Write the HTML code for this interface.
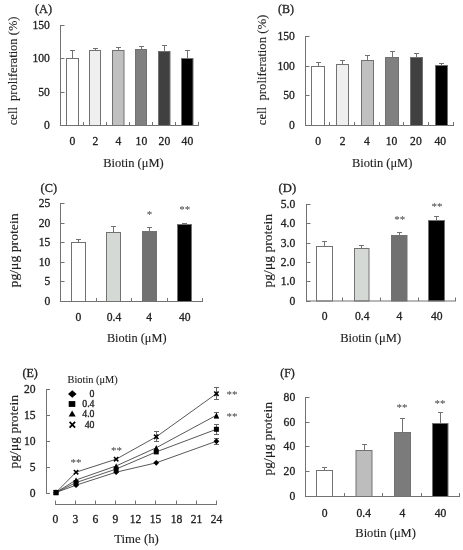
<!DOCTYPE html>
<html><head><meta charset="utf-8"><title>Biotin figure</title>
<style>
html,body{margin:0;padding:0;background:#fff;}
body{width:463px;height:550px;overflow:hidden;}
svg{display:block;font-family:'Liberation Serif', 'DejaVu Serif', serif;filter:blur(0.3px);}
text{stroke:#222;stroke-width:0.3px;}
text.t{stroke-width:0.12px;}
text.s{stroke:none;}

</style></head>
<body>
<svg width="463" height="550" viewBox="0 0 463 550">
<rect width="463" height="550" fill="#fff"/>
<line x1="72.50" y1="58.50" x2="72.50" y2="50.50" stroke="#727272" stroke-width="1"/>
<line x1="70.00" y1="50.50" x2="75.00" y2="50.50" stroke="#727272" stroke-width="1"/>
<rect x="66.5" y="58.5" width="12" height="67.0" fill="#fff" stroke="#727272" stroke-width="1"/>
<line x1="95.50" y1="50.50" x2="95.50" y2="48.50" stroke="#727272" stroke-width="1"/>
<line x1="93.00" y1="48.50" x2="98.00" y2="48.50" stroke="#727272" stroke-width="1"/>
<rect x="89.5" y="50.5" width="11" height="75.0" fill="#efefef" stroke="#727272" stroke-width="1"/>
<line x1="118.50" y1="50.50" x2="118.50" y2="47.50" stroke="#727272" stroke-width="1"/>
<line x1="116.00" y1="47.50" x2="121.00" y2="47.50" stroke="#727272" stroke-width="1"/>
<rect x="112.5" y="50.5" width="11.5" height="75.0" fill="#c0c0c0" stroke="#727272" stroke-width="1"/>
<line x1="141.50" y1="49.50" x2="141.50" y2="46.50" stroke="#727272" stroke-width="1"/>
<line x1="139.00" y1="46.50" x2="144.00" y2="46.50" stroke="#727272" stroke-width="1"/>
<rect x="135.5" y="49.5" width="11" height="76.0" fill="#808080" stroke="#727272" stroke-width="1"/>
<line x1="164.50" y1="51.50" x2="164.50" y2="45.50" stroke="#727272" stroke-width="1"/>
<line x1="162.00" y1="45.50" x2="167.00" y2="45.50" stroke="#727272" stroke-width="1"/>
<rect x="158.5" y="51.5" width="11.5" height="74.0" fill="#404040" stroke="#727272" stroke-width="1"/>
<line x1="187.50" y1="58.50" x2="187.50" y2="50.50" stroke="#727272" stroke-width="1"/>
<line x1="185.00" y1="50.50" x2="190.00" y2="50.50" stroke="#727272" stroke-width="1"/>
<rect x="181.5" y="58.5" width="11.5" height="67.0" fill="#000" stroke="#727272" stroke-width="1"/>
<line x1="60.50" y1="125.50" x2="60.50" y2="25.00" stroke="#727272" stroke-width="1"/>
<line x1="60.00" y1="125.50" x2="64.50" y2="125.50" stroke="#727272" stroke-width="1"/>
<line x1="60.00" y1="92.50" x2="64.50" y2="92.50" stroke="#727272" stroke-width="1"/>
<line x1="60.00" y1="58.50" x2="64.50" y2="58.50" stroke="#727272" stroke-width="1"/>
<line x1="60.00" y1="25.50" x2="64.50" y2="25.50" stroke="#727272" stroke-width="1"/>
<line x1="60.00" y1="125.50" x2="199.00" y2="125.50" stroke="#727272" stroke-width="1"/>
<line x1="83.50" y1="125.50" x2="83.50" y2="122.00" stroke="#727272" stroke-width="1"/>
<line x1="106.50" y1="125.50" x2="106.50" y2="122.00" stroke="#727272" stroke-width="1"/>
<line x1="129.50" y1="125.50" x2="129.50" y2="122.00" stroke="#727272" stroke-width="1"/>
<line x1="152.50" y1="125.50" x2="152.50" y2="122.00" stroke="#727272" stroke-width="1"/>
<line x1="175.50" y1="125.50" x2="175.50" y2="122.00" stroke="#727272" stroke-width="1"/>
<line x1="198.50" y1="125.50" x2="198.50" y2="122.00" stroke="#727272" stroke-width="1"/>
<text x="49.80" y="129.00" font-size="11.6" text-anchor="end" fill="#222">0</text>
<text x="49.80" y="95.67" font-size="11.6" text-anchor="end" fill="#222">50</text>
<text x="49.80" y="62.33" font-size="11.6" text-anchor="end" fill="#222">100</text>
<text x="49.80" y="29.00" font-size="11.6" text-anchor="end" fill="#222">150</text>
<text x="72.40" y="144.60" font-size="11.6" text-anchor="middle" fill="#222">0</text>
<text x="95.40" y="144.60" font-size="11.6" text-anchor="middle" fill="#222">2</text>
<text x="118.40" y="144.60" font-size="11.6" text-anchor="middle" fill="#222">4</text>
<text x="141.40" y="144.60" font-size="11.6" text-anchor="middle" fill="#222">10</text>
<text x="164.40" y="144.60" font-size="11.6" text-anchor="middle" fill="#222">20</text>
<text x="187.40" y="144.60" font-size="11.6" text-anchor="middle" fill="#222">40</text>
<text x="103.30" y="167.30" font-size="12.4" text-anchor="start" fill="#222" textLength="60.40" lengthAdjust="spacingAndGlyphs" class="t">Biotin (μM)</text>
<text transform="translate(16.50,125.20) rotate(-90)" font-size="12.2" fill="#222" textLength="108.70" lengthAdjust="spacingAndGlyphs" class="t">cell&#160;&#160;proliferation (%)</text>
<text x="35.00" y="13.20" font-size="12.3" text-anchor="start" fill="#222">(A)</text>
<line x1="318.50" y1="66.50" x2="318.50" y2="62.50" stroke="#727272" stroke-width="1"/>
<line x1="316.00" y1="62.50" x2="321.00" y2="62.50" stroke="#727272" stroke-width="1"/>
<rect x="311.5" y="66.5" width="13" height="59.0" fill="#fff" stroke="#727272" stroke-width="1"/>
<line x1="342.50" y1="64.50" x2="342.50" y2="60.50" stroke="#727272" stroke-width="1"/>
<line x1="340.00" y1="60.50" x2="345.00" y2="60.50" stroke="#727272" stroke-width="1"/>
<rect x="336.5" y="64.5" width="12" height="61.0" fill="#efefef" stroke="#727272" stroke-width="1"/>
<line x1="367.50" y1="60.50" x2="367.50" y2="55.50" stroke="#727272" stroke-width="1"/>
<line x1="365.00" y1="55.50" x2="370.00" y2="55.50" stroke="#727272" stroke-width="1"/>
<rect x="361.5" y="60.5" width="12" height="65.0" fill="#c0c0c0" stroke="#727272" stroke-width="1"/>
<line x1="392.50" y1="57.50" x2="392.50" y2="51.50" stroke="#727272" stroke-width="1"/>
<line x1="390.00" y1="51.50" x2="395.00" y2="51.50" stroke="#727272" stroke-width="1"/>
<rect x="385.5" y="57.5" width="13" height="68.0" fill="#808080" stroke="#727272" stroke-width="1"/>
<line x1="416.50" y1="57.50" x2="416.50" y2="53.50" stroke="#727272" stroke-width="1"/>
<line x1="414.00" y1="53.50" x2="419.00" y2="53.50" stroke="#727272" stroke-width="1"/>
<rect x="410.5" y="57.5" width="12" height="68.0" fill="#404040" stroke="#727272" stroke-width="1"/>
<line x1="441.50" y1="65.50" x2="441.50" y2="63.50" stroke="#727272" stroke-width="1"/>
<line x1="439.00" y1="63.50" x2="444.00" y2="63.50" stroke="#727272" stroke-width="1"/>
<rect x="435.5" y="65.5" width="12" height="60.0" fill="#000" stroke="#727272" stroke-width="1"/>
<line x1="305.50" y1="125.50" x2="305.50" y2="36.00" stroke="#727272" stroke-width="1"/>
<line x1="305.00" y1="125.50" x2="309.50" y2="125.50" stroke="#727272" stroke-width="1"/>
<line x1="305.00" y1="95.50" x2="309.50" y2="95.50" stroke="#727272" stroke-width="1"/>
<line x1="305.00" y1="66.50" x2="309.50" y2="66.50" stroke="#727272" stroke-width="1"/>
<line x1="305.00" y1="36.50" x2="309.50" y2="36.50" stroke="#727272" stroke-width="1"/>
<line x1="305.00" y1="125.50" x2="454.00" y2="125.50" stroke="#727272" stroke-width="1"/>
<line x1="329.50" y1="125.50" x2="329.50" y2="122.00" stroke="#727272" stroke-width="1"/>
<line x1="354.50" y1="125.50" x2="354.50" y2="122.00" stroke="#727272" stroke-width="1"/>
<line x1="379.50" y1="125.50" x2="379.50" y2="122.00" stroke="#727272" stroke-width="1"/>
<line x1="403.50" y1="125.50" x2="403.50" y2="122.00" stroke="#727272" stroke-width="1"/>
<line x1="428.50" y1="125.50" x2="428.50" y2="122.00" stroke="#727272" stroke-width="1"/>
<line x1="453.50" y1="125.50" x2="453.50" y2="122.00" stroke="#727272" stroke-width="1"/>
<text x="294.80" y="129.00" font-size="11.6" text-anchor="end" fill="#222">0</text>
<text x="294.80" y="99.33" font-size="11.6" text-anchor="end" fill="#222">50</text>
<text x="294.80" y="69.67" font-size="11.6" text-anchor="end" fill="#222">100</text>
<text x="294.80" y="40.00" font-size="11.6" text-anchor="end" fill="#222">150</text>
<text x="318.10" y="144.60" font-size="11.6" text-anchor="middle" fill="#222">0</text>
<text x="342.55" y="144.60" font-size="11.6" text-anchor="middle" fill="#222">2</text>
<text x="367.00" y="144.60" font-size="11.6" text-anchor="middle" fill="#222">4</text>
<text x="391.45" y="144.60" font-size="11.6" text-anchor="middle" fill="#222">10</text>
<text x="415.90" y="144.60" font-size="11.6" text-anchor="middle" fill="#222">20</text>
<text x="440.35" y="144.60" font-size="11.6" text-anchor="middle" fill="#222">40</text>
<text x="351.90" y="166.80" font-size="12.4" text-anchor="start" fill="#222" textLength="60.50" lengthAdjust="spacingAndGlyphs" class="t">Biotin (μM)</text>
<text transform="translate(265.80,125.20) rotate(-90)" font-size="12.2" fill="#222" textLength="110.50" lengthAdjust="spacingAndGlyphs" class="t">cell&#160;&#160;proliferation (%)</text>
<text x="278.00" y="13.20" font-size="12.0" text-anchor="start" fill="#222">(B)</text>
<line x1="78.50" y1="242.50" x2="78.50" y2="239.50" stroke="#727272" stroke-width="1"/>
<line x1="76.00" y1="239.50" x2="81.00" y2="239.50" stroke="#727272" stroke-width="1"/>
<rect x="71.5" y="242.5" width="14" height="59.0" fill="#fff" stroke="#727272" stroke-width="1"/>
<line x1="113.50" y1="232.50" x2="113.50" y2="226.50" stroke="#727272" stroke-width="1"/>
<line x1="111.00" y1="226.50" x2="116.00" y2="226.50" stroke="#727272" stroke-width="1"/>
<rect x="106.5" y="232.5" width="14" height="69.0" fill="#d5d9d5" stroke="#727272" stroke-width="1"/>
<line x1="149.50" y1="231.50" x2="149.50" y2="227.50" stroke="#727272" stroke-width="1"/>
<line x1="147.00" y1="227.50" x2="152.00" y2="227.50" stroke="#727272" stroke-width="1"/>
<rect x="142.5" y="231.5" width="14" height="70.0" fill="#717171" stroke="#727272" stroke-width="1"/>
<line x1="184.50" y1="224.50" x2="184.50" y2="223.50" stroke="#727272" stroke-width="1"/>
<line x1="182.00" y1="223.50" x2="187.00" y2="223.50" stroke="#727272" stroke-width="1"/>
<rect x="177.5" y="224.5" width="14" height="77.0" fill="#000" stroke="#727272" stroke-width="1"/>
<line x1="60.50" y1="301.50" x2="60.50" y2="203.00" stroke="#727272" stroke-width="1"/>
<line x1="60.00" y1="301.50" x2="64.50" y2="301.50" stroke="#727272" stroke-width="1"/>
<line x1="60.00" y1="281.50" x2="64.50" y2="281.50" stroke="#727272" stroke-width="1"/>
<line x1="60.00" y1="262.50" x2="64.50" y2="262.50" stroke="#727272" stroke-width="1"/>
<line x1="60.00" y1="242.50" x2="64.50" y2="242.50" stroke="#727272" stroke-width="1"/>
<line x1="60.00" y1="223.50" x2="64.50" y2="223.50" stroke="#727272" stroke-width="1"/>
<line x1="60.00" y1="203.50" x2="64.50" y2="203.50" stroke="#727272" stroke-width="1"/>
<line x1="60.00" y1="301.50" x2="203.00" y2="301.50" stroke="#727272" stroke-width="1"/>
<line x1="96.50" y1="301.50" x2="96.50" y2="298.00" stroke="#727272" stroke-width="1"/>
<line x1="131.50" y1="301.50" x2="131.50" y2="298.00" stroke="#727272" stroke-width="1"/>
<line x1="167.50" y1="301.50" x2="167.50" y2="298.00" stroke="#727272" stroke-width="1"/>
<line x1="202.50" y1="301.50" x2="202.50" y2="298.00" stroke="#727272" stroke-width="1"/>
<text x="50.30" y="305.00" font-size="11.6" text-anchor="end" fill="#222">0</text>
<text x="50.30" y="285.46" font-size="11.6" text-anchor="end" fill="#222">5</text>
<text x="50.30" y="265.92" font-size="11.6" text-anchor="end" fill="#222">10</text>
<text x="50.30" y="246.38" font-size="11.6" text-anchor="end" fill="#222">15</text>
<text x="50.30" y="226.84" font-size="11.6" text-anchor="end" fill="#222">20</text>
<text x="50.30" y="207.30" font-size="11.6" text-anchor="end" fill="#222">25</text>
<text x="78.30" y="320.50" font-size="11.6" text-anchor="middle" fill="#222">0</text>
<text x="114.00" y="320.50" font-size="11.6" text-anchor="middle" fill="#222">0.4</text>
<text x="149.20" y="320.50" font-size="11.6" text-anchor="middle" fill="#222">4</text>
<text x="184.70" y="320.50" font-size="11.6" text-anchor="middle" fill="#222">40</text>
<text x="106.90" y="341.60" font-size="12.4" text-anchor="start" fill="#222" textLength="59.60" lengthAdjust="spacingAndGlyphs" class="t">Biotin (μM)</text>
<text transform="translate(17.70,287.40) rotate(-90)" font-size="12.8" fill="#222" textLength="74.00" lengthAdjust="spacingAndGlyphs" class="t">pg/μg protein</text>
<text x="40.60" y="192.30" font-size="12.3" text-anchor="start" fill="#222">(C)</text>
<text x="149.40" y="218.00" font-size="11" text-anchor="middle" fill="#3a3a3a" class="s">*</text>
<text x="184.70" y="213.00" font-size="11" text-anchor="middle" fill="#3a3a3a" class="s">**</text>
<line x1="324.50" y1="246.50" x2="324.50" y2="241.50" stroke="#727272" stroke-width="1"/>
<line x1="322.00" y1="241.50" x2="327.00" y2="241.50" stroke="#727272" stroke-width="1"/>
<rect x="316.5" y="246.5" width="16" height="54.5" fill="#fff" stroke="#727272" stroke-width="1"/>
<line x1="361.50" y1="248.50" x2="361.50" y2="245.50" stroke="#727272" stroke-width="1"/>
<line x1="359.00" y1="245.50" x2="364.00" y2="245.50" stroke="#727272" stroke-width="1"/>
<rect x="354.5" y="248.5" width="14.5" height="52.5" fill="#d5d9d5" stroke="#727272" stroke-width="1"/>
<line x1="399.50" y1="235.50" x2="399.50" y2="232.50" stroke="#727272" stroke-width="1"/>
<line x1="397.00" y1="232.50" x2="402.00" y2="232.50" stroke="#727272" stroke-width="1"/>
<rect x="391.5" y="235.5" width="15.5" height="65.5" fill="#717171" stroke="#727272" stroke-width="1"/>
<line x1="436.50" y1="220.50" x2="436.50" y2="216.50" stroke="#727272" stroke-width="1"/>
<line x1="434.00" y1="216.50" x2="439.00" y2="216.50" stroke="#727272" stroke-width="1"/>
<rect x="428.5" y="220.5" width="16" height="80.5" fill="#000" stroke="#727272" stroke-width="1"/>
<line x1="306.50" y1="301.00" x2="306.50" y2="204.00" stroke="#727272" stroke-width="1"/>
<line x1="306.00" y1="301.50" x2="310.50" y2="301.50" stroke="#727272" stroke-width="1"/>
<line x1="306.00" y1="281.50" x2="310.50" y2="281.50" stroke="#727272" stroke-width="1"/>
<line x1="306.00" y1="262.50" x2="310.50" y2="262.50" stroke="#727272" stroke-width="1"/>
<line x1="306.00" y1="243.50" x2="310.50" y2="243.50" stroke="#727272" stroke-width="1"/>
<line x1="306.00" y1="223.50" x2="310.50" y2="223.50" stroke="#727272" stroke-width="1"/>
<line x1="306.00" y1="204.50" x2="310.50" y2="204.50" stroke="#727272" stroke-width="1"/>
<line x1="306.00" y1="301.00" x2="456.00" y2="301.00" stroke="#727272" stroke-width="1"/>
<line x1="342.50" y1="301.00" x2="342.50" y2="297.50" stroke="#727272" stroke-width="1"/>
<line x1="380.50" y1="301.00" x2="380.50" y2="297.50" stroke="#727272" stroke-width="1"/>
<line x1="418.50" y1="301.00" x2="418.50" y2="297.50" stroke="#727272" stroke-width="1"/>
<line x1="455.50" y1="301.00" x2="455.50" y2="297.50" stroke="#727272" stroke-width="1"/>
<text x="295.30" y="304.50" font-size="11.6" text-anchor="end" fill="#222">0</text>
<text x="295.30" y="285.18" font-size="11.6" text-anchor="end" fill="#222">1.0</text>
<text x="295.30" y="265.86" font-size="11.6" text-anchor="end" fill="#222">2.0</text>
<text x="295.30" y="246.54" font-size="11.6" text-anchor="end" fill="#222">3.0</text>
<text x="295.30" y="227.22" font-size="11.6" text-anchor="end" fill="#222">4.0</text>
<text x="295.30" y="207.90" font-size="11.6" text-anchor="end" fill="#222">5.0</text>
<text x="324.70" y="320.30" font-size="11.6" text-anchor="middle" fill="#222">0</text>
<text x="362.20" y="320.30" font-size="11.6" text-anchor="middle" fill="#222">0.4</text>
<text x="399.30" y="320.30" font-size="11.6" text-anchor="middle" fill="#222">4</text>
<text x="436.70" y="320.30" font-size="11.6" text-anchor="middle" fill="#222">40</text>
<text x="340.20" y="341.80" font-size="12.4" text-anchor="start" fill="#222" textLength="60.90" lengthAdjust="spacingAndGlyphs" class="t">Biotin (μM)</text>
<text transform="translate(271.80,287.50) rotate(-90)" font-size="12.8" fill="#222" textLength="73.50" lengthAdjust="spacingAndGlyphs" class="t">pg/μg protein</text>
<text x="278.60" y="192.30" font-size="12.6" text-anchor="start" fill="#222">(D)</text>
<text x="399.70" y="222.60" font-size="11" text-anchor="middle" fill="#3a3a3a" class="s">**</text>
<text x="437.00" y="210.00" font-size="11" text-anchor="middle" fill="#3a3a3a" class="s">**</text>
<line x1="324.50" y1="470.50" x2="324.50" y2="467.50" stroke="#727272" stroke-width="1"/>
<line x1="322.00" y1="467.50" x2="327.00" y2="467.50" stroke="#727272" stroke-width="1"/>
<rect x="316.5" y="470.5" width="16" height="26.0" fill="#fff" stroke="#727272" stroke-width="1"/>
<line x1="364.50" y1="450.50" x2="364.50" y2="444.50" stroke="#727272" stroke-width="1"/>
<line x1="362.00" y1="444.50" x2="367.00" y2="444.50" stroke="#727272" stroke-width="1"/>
<rect x="356.0" y="450.5" width="16.0" height="46.0" fill="#bdbdbd" stroke="#727272" stroke-width="1"/>
<line x1="402.50" y1="432.50" x2="402.50" y2="418.50" stroke="#727272" stroke-width="1"/>
<line x1="400.00" y1="418.50" x2="405.00" y2="418.50" stroke="#727272" stroke-width="1"/>
<rect x="394.5" y="432.5" width="16" height="64.0" fill="#7b7b7b" stroke="#727272" stroke-width="1"/>
<line x1="440.50" y1="423.50" x2="440.50" y2="412.50" stroke="#727272" stroke-width="1"/>
<line x1="438.00" y1="412.50" x2="443.00" y2="412.50" stroke="#727272" stroke-width="1"/>
<rect x="432.5" y="423.5" width="15.5" height="73.0" fill="#000" stroke="#727272" stroke-width="1"/>
<line x1="305.50" y1="496.50" x2="305.50" y2="397.00" stroke="#727272" stroke-width="1"/>
<line x1="305.00" y1="496.50" x2="309.50" y2="496.50" stroke="#727272" stroke-width="1"/>
<line x1="305.00" y1="471.50" x2="309.50" y2="471.50" stroke="#727272" stroke-width="1"/>
<line x1="305.00" y1="446.50" x2="309.50" y2="446.50" stroke="#727272" stroke-width="1"/>
<line x1="305.00" y1="422.50" x2="309.50" y2="422.50" stroke="#727272" stroke-width="1"/>
<line x1="305.00" y1="397.50" x2="309.50" y2="397.50" stroke="#727272" stroke-width="1"/>
<line x1="305.00" y1="496.50" x2="460.00" y2="496.50" stroke="#727272" stroke-width="1"/>
<line x1="344.50" y1="496.50" x2="344.50" y2="493.00" stroke="#727272" stroke-width="1"/>
<line x1="382.50" y1="496.50" x2="382.50" y2="493.00" stroke="#727272" stroke-width="1"/>
<line x1="421.50" y1="496.50" x2="421.50" y2="493.00" stroke="#727272" stroke-width="1"/>
<line x1="459.50" y1="496.50" x2="459.50" y2="493.00" stroke="#727272" stroke-width="1"/>
<text x="295.20" y="500.00" font-size="11.6" text-anchor="end" fill="#222">0</text>
<text x="295.20" y="475.18" font-size="11.6" text-anchor="end" fill="#222">20</text>
<text x="295.20" y="450.35" font-size="11.6" text-anchor="end" fill="#222">40</text>
<text x="295.20" y="425.52" font-size="11.6" text-anchor="end" fill="#222">60</text>
<text x="295.20" y="400.70" font-size="11.6" text-anchor="end" fill="#222">80</text>
<text x="324.70" y="517.20" font-size="11.6" text-anchor="middle" fill="#222">0</text>
<text x="363.70" y="517.20" font-size="11.6" text-anchor="middle" fill="#222">0.4</text>
<text x="402.40" y="517.20" font-size="11.6" text-anchor="middle" fill="#222">4</text>
<text x="440.60" y="517.20" font-size="11.6" text-anchor="middle" fill="#222">40</text>
<text x="355.30" y="537.10" font-size="12.4" text-anchor="start" fill="#222" textLength="60.60" lengthAdjust="spacingAndGlyphs" class="t">Biotin (μM)</text>
<text transform="translate(272.00,475.50) rotate(-90)" font-size="12.8" fill="#222" textLength="73.50" lengthAdjust="spacingAndGlyphs" class="t">pg/μg protein</text>
<text x="280.20" y="376.70" font-size="12.0" text-anchor="start" fill="#222">(F)</text>
<text x="402.00" y="411.40" font-size="11" text-anchor="middle" fill="#3a3a3a" class="s">**</text>
<text x="440.00" y="406.60" font-size="11" text-anchor="middle" fill="#3a3a3a" class="s">**</text>
<line x1="46.50" y1="494.00" x2="46.50" y2="389.00" stroke="#727272" stroke-width="1"/>
<line x1="46.00" y1="493.50" x2="50.00" y2="493.50" stroke="#727272" stroke-width="1"/>
<line x1="46.00" y1="467.50" x2="50.00" y2="467.50" stroke="#727272" stroke-width="1"/>
<line x1="46.00" y1="441.50" x2="50.00" y2="441.50" stroke="#727272" stroke-width="1"/>
<line x1="46.00" y1="415.50" x2="50.00" y2="415.50" stroke="#727272" stroke-width="1"/>
<line x1="46.00" y1="389.50" x2="50.00" y2="389.50" stroke="#727272" stroke-width="1"/>
<text x="35.60" y="496.80" font-size="11.6" text-anchor="end" fill="#222">0</text>
<text x="35.60" y="470.80" font-size="11.6" text-anchor="end" fill="#222">5</text>
<text x="35.60" y="444.80" font-size="11.6" text-anchor="end" fill="#222">10</text>
<text x="35.60" y="418.80" font-size="11.6" text-anchor="end" fill="#222">15</text>
<text x="35.60" y="392.80" font-size="11.6" text-anchor="end" fill="#222">20</text>
<line x1="55.00" y1="504.50" x2="217.00" y2="504.50" stroke="#727272" stroke-width="1"/>
<line x1="55.50" y1="504.50" x2="55.50" y2="500.50" stroke="#727272" stroke-width="1"/>
<text x="55.50" y="523.00" font-size="11.6" text-anchor="middle" fill="#222">0</text>
<line x1="75.50" y1="504.50" x2="75.50" y2="500.50" stroke="#727272" stroke-width="1"/>
<text x="75.50" y="523.00" font-size="11.6" text-anchor="middle" fill="#222">3</text>
<line x1="95.50" y1="504.50" x2="95.50" y2="500.50" stroke="#727272" stroke-width="1"/>
<text x="95.50" y="523.00" font-size="11.6" text-anchor="middle" fill="#222">6</text>
<line x1="115.50" y1="504.50" x2="115.50" y2="500.50" stroke="#727272" stroke-width="1"/>
<text x="115.50" y="523.00" font-size="11.6" text-anchor="middle" fill="#222">9</text>
<line x1="135.50" y1="504.50" x2="135.50" y2="500.50" stroke="#727272" stroke-width="1"/>
<text x="135.50" y="523.00" font-size="11.6" text-anchor="middle" fill="#222">12</text>
<line x1="155.50" y1="504.50" x2="155.50" y2="500.50" stroke="#727272" stroke-width="1"/>
<text x="155.50" y="523.00" font-size="11.6" text-anchor="middle" fill="#222">15</text>
<line x1="176.50" y1="504.50" x2="176.50" y2="500.50" stroke="#727272" stroke-width="1"/>
<text x="176.50" y="523.00" font-size="11.6" text-anchor="middle" fill="#222">18</text>
<line x1="196.50" y1="504.50" x2="196.50" y2="500.50" stroke="#727272" stroke-width="1"/>
<text x="196.50" y="523.00" font-size="11.6" text-anchor="middle" fill="#222">21</text>
<line x1="216.50" y1="504.50" x2="216.50" y2="500.50" stroke="#727272" stroke-width="1"/>
<text x="216.50" y="523.00" font-size="11.6" text-anchor="middle" fill="#222">24</text>
<text x="114.20" y="543.00" font-size="12.6" text-anchor="start" fill="#222" textLength="44.70" lengthAdjust="spacingAndGlyphs" class="t">Time (h)</text>
<text transform="translate(17.80,468.50) rotate(-90)" font-size="12.8" fill="#222" textLength="73.50" lengthAdjust="spacingAndGlyphs" class="t">pg/μg protein</text>
<text x="22.40" y="376.60" font-size="12.0" text-anchor="start" fill="#222">(E)</text>
<polyline points="56.00,492.46 76.05,485.18 116.15,472.18 156.25,462.82 216.40,441.24" fill="none" stroke="#3a3a3a" stroke-width="0.85"/>
<polyline points="56.00,492.46 76.05,482.58 116.15,469.06 156.25,451.90 216.40,429.28" fill="none" stroke="#3a3a3a" stroke-width="0.85"/>
<polyline points="56.00,492.46 76.05,479.98 116.15,465.94 156.25,447.74 216.40,415.24" fill="none" stroke="#3a3a3a" stroke-width="0.85"/>
<polyline points="56.00,492.46 76.05,472.18 116.15,459.18 156.25,436.82 216.40,393.66" fill="none" stroke="#3a3a3a" stroke-width="0.85"/>
<line x1="216.50" y1="438.50" x2="216.50" y2="444.50" stroke="#666" stroke-width="1"/>
<line x1="214.00" y1="438.50" x2="219.00" y2="438.50" stroke="#666" stroke-width="1"/>
<line x1="214.00" y1="444.50" x2="219.00" y2="444.50" stroke="#666" stroke-width="1"/>
<line x1="216.50" y1="424.50" x2="216.50" y2="434.50" stroke="#666" stroke-width="1"/>
<line x1="214.00" y1="424.50" x2="219.00" y2="424.50" stroke="#666" stroke-width="1"/>
<line x1="214.00" y1="434.50" x2="219.00" y2="434.50" stroke="#666" stroke-width="1"/>
<line x1="216.50" y1="412.50" x2="216.50" y2="418.50" stroke="#666" stroke-width="1"/>
<line x1="214.00" y1="412.50" x2="219.00" y2="412.50" stroke="#666" stroke-width="1"/>
<line x1="214.00" y1="418.50" x2="219.00" y2="418.50" stroke="#666" stroke-width="1"/>
<line x1="156.50" y1="431.50" x2="156.50" y2="441.50" stroke="#666" stroke-width="1"/>
<line x1="154.00" y1="431.50" x2="159.00" y2="431.50" stroke="#666" stroke-width="1"/>
<line x1="154.00" y1="441.50" x2="159.00" y2="441.50" stroke="#666" stroke-width="1"/>
<line x1="216.50" y1="387.50" x2="216.50" y2="399.50" stroke="#666" stroke-width="1"/>
<line x1="214.00" y1="387.50" x2="219.00" y2="387.50" stroke="#666" stroke-width="1"/>
<line x1="214.00" y1="399.50" x2="219.00" y2="399.50" stroke="#666" stroke-width="1"/>
<polygon points="56.00,489.56 58.90,492.46 56.00,495.36 53.10,492.46" fill="#000"/>
<polygon points="76.05,482.28 78.95,485.18 76.05,488.08 73.15,485.18" fill="#000"/>
<polygon points="116.15,469.28 119.05,472.18 116.15,475.08 113.25,472.18" fill="#000"/>
<polygon points="156.25,459.92 159.15,462.82 156.25,465.72 153.35,462.82" fill="#000"/>
<polygon points="216.40,438.34 219.30,441.24 216.40,444.14 213.50,441.24" fill="#000"/>
<rect x="53.50" y="489.96" width="5.00" height="5.00" fill="#000"/>
<rect x="73.55" y="480.08" width="5.00" height="5.00" fill="#000"/>
<rect x="113.65" y="466.56" width="5.00" height="5.00" fill="#000"/>
<rect x="153.75" y="449.40" width="5.00" height="5.00" fill="#000"/>
<rect x="213.90" y="426.78" width="5.00" height="5.00" fill="#000"/>
<polygon points="56.00,489.76 58.60,495.16 53.40,495.16" fill="#000"/>
<polygon points="76.05,477.28 78.65,482.68 73.45,482.68" fill="#000"/>
<polygon points="116.15,463.24 118.75,468.64 113.55,468.64" fill="#000"/>
<polygon points="156.25,445.04 158.85,450.44 153.65,450.44" fill="#000"/>
<polygon points="216.40,412.54 219.00,417.94 213.80,417.94" fill="#000"/>
<path d="M53.80,490.26L58.20,494.66M58.20,490.26L53.80,494.66" stroke="#000" stroke-width="1.6" fill="none"/>
<path d="M73.85,469.98L78.25,474.38M78.25,469.98L73.85,474.38" stroke="#000" stroke-width="1.6" fill="none"/>
<path d="M113.95,456.98L118.35,461.38M118.35,456.98L113.95,461.38" stroke="#000" stroke-width="1.6" fill="none"/>
<path d="M154.05,434.62L158.45,439.02M158.45,434.62L154.05,439.02" stroke="#000" stroke-width="1.6" fill="none"/>
<path d="M214.20,391.46L218.60,395.86M218.60,391.46L214.20,395.86" stroke="#000" stroke-width="1.6" fill="none"/>
<text x="76.10" y="466.30" font-size="11" text-anchor="middle" fill="#3a3a3a" class="s">**</text>
<text x="116.50" y="453.90" font-size="11" text-anchor="middle" fill="#3a3a3a" class="s">**</text>
<text x="232.10" y="398.00" font-size="11" text-anchor="middle" fill="#3a3a3a" class="s">**</text>
<text x="232.10" y="420.00" font-size="11" text-anchor="middle" fill="#3a3a3a" class="s">**</text>
<text x="67.60" y="383.30" font-size="10.4" text-anchor="start" fill="#222" textLength="50.00" lengthAdjust="spacingAndGlyphs" class="t">Biotin (μM)</text>
<polygon points="72.3,390.2 76.6,394 72.3,397.7 68,394" fill="#000"/>
<rect x="68.7" y="401.1" width="6.6" height="5.8" fill="#000"/>
<polygon points="72.1,410.4 75.7,416.5 68.6,416.5" fill="#000"/>
<path d="M69.6,421.8L75.1,427.6M75.1,421.8L69.6,427.6" stroke="#000" stroke-width="1.7" fill="none"/>
<text x="94.50" y="397.00" font-size="9.8" text-anchor="end" fill="#222">0</text>
<text x="94.50" y="407.00" font-size="9.8" text-anchor="end" fill="#222">0.4</text>
<text x="94.50" y="416.50" font-size="9.8" text-anchor="end" fill="#222">4.0</text>
<text x="94.50" y="427.70" font-size="9.8" text-anchor="end" fill="#222">40</text>
</svg>
</body></html>
